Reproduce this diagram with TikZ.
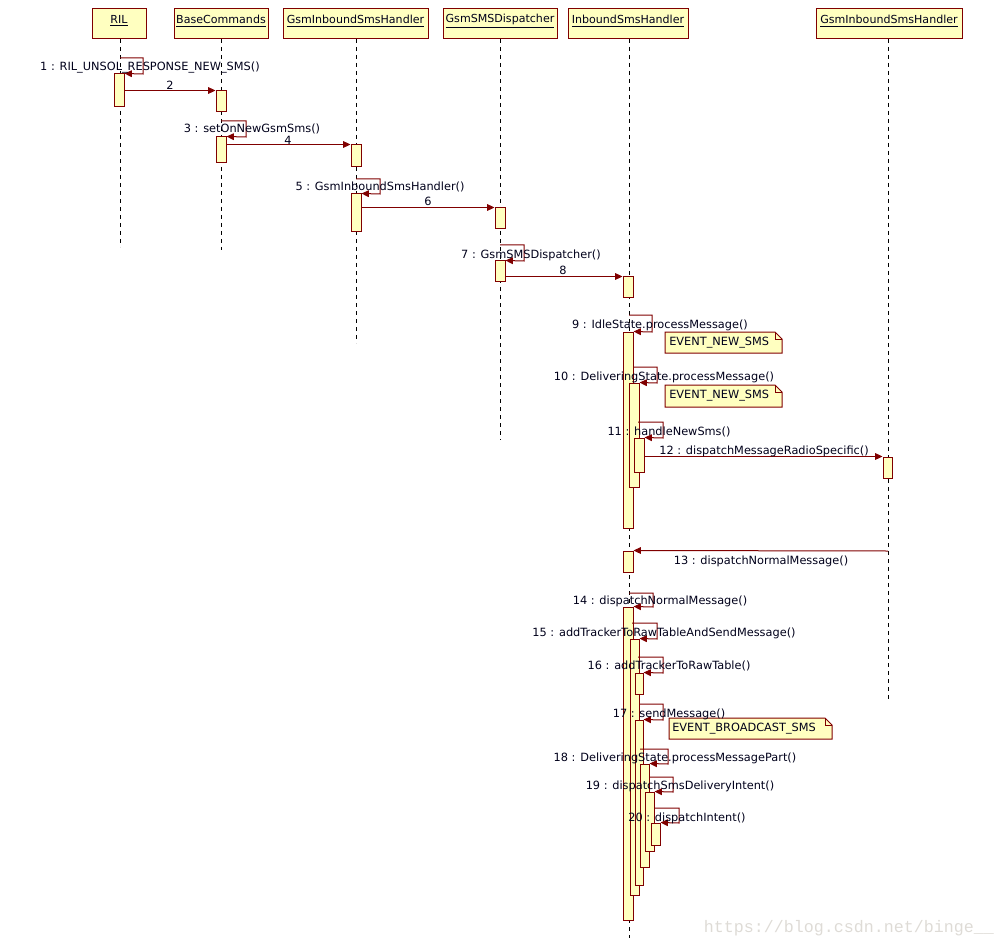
\documentclass[tikz,border=0pt]{standalone}
\usepackage{fontspec}
\setmainfont{DejaVu Sans}
\newfontfamily\wmfont{Liberation Mono}
\usetikzlibrary{arrows.meta,fit,backgrounds}
\definecolor{fillY}{HTML}{FFFFC0}
\definecolor{bord}{HTML}{800000}
\definecolor{txt}{HTML}{00001A}
\definecolor{wm}{HTML}{DEDBD6}
\begin{document}
\begin{tikzpicture}[x=0.75pt,y=-0.75pt,
  font=\fontsize{8.5}{10}\selectfont, text=txt,
  head/.style={draw=bord, fill=fillY, line width=0.75pt, inner sep=0pt},
  act/.style={draw=bord, fill=fillY, line width=0.75pt, inner sep=0pt},
  life/.style={draw=black, line width=0.75pt, dash pattern=on 3pt off 3pt},
  msg/.style={draw=bord, line width=0.75pt, -{Triangle[length=5.5pt,width=5pt]}},
  lbl/.style={inner sep=0pt, anchor=center},
  htxt/.style={inner sep=0pt, anchor=center, font=\fontsize{8.3}{10}\selectfont},
  notetxt/.style={inner sep=0pt, anchor=west},
  notebd/.style={draw=bord, fill=fillY, line width=0.75pt}
]
\useasboundingbox (0,0) rectangle (1005,948);

% headers
\node[head, fit={(92,9)(146,39)}] (h1) {};
\node[head, fit={(174,9)(268,39)}] (h2) {};
\node[head, fit={(283,9)(428,39)}] (h3) {};
\node[head, fit={(443,9)(557,39)}] (h4) {};
\node[head, fit={(568,9)(688,39)}] (h5) {};
\node[head, fit={(816,9)(962,39)}] (h6) {};
\node[htxt] (t1) at ([yshift=2.2pt]h1.center) {\underline{RIL}};
\node[htxt] (t2) at ([yshift=2.2pt]h2.center) {\underline{BaseCommands}};
\node[htxt] (t3) at ([yshift=2.2pt]h3.center) {\underline{GsmInboundSmsHandler}};
\node[htxt] (t4) at ([yshift=2.2pt]h4.center) {\underline{GsmSMSDispatcher}};
\node[htxt] (t5) at ([yshift=2.2pt]h5.center) {\underline{InboundSmsHandler}};
\node[htxt] (t6) at ([yshift=2.2pt]h6.center) {\underline{GsmInboundSmsHandler}};

% lifeline ends
\coordinate (e1) at (120,247);
\coordinate (e2) at (221,250);
\coordinate (e3) at (356,343);
\coordinate (e4) at (500,440);
\coordinate (e5) at (629,938);
\coordinate (e6) at (888,700);
\draw[life] (120,39) -- (e1);
\draw[life] (221,39) -- (e2);
\draw[life] (356,39) -- (e3);
\draw[life] (500,39) -- (e4);
\draw[life] (629,39) -- (e5);
\draw[life] (888,39) -- (e6);

% activations
\node[act, fit={(114,74)(124,107)}] (a1) {};
\node[act, fit={(216,91)(226,112)}] (a2) {};
\node[act, fit={(216,137)(226,163)}] (a3) {};
\node[act, fit={(351,145)(361,167)}] (a4) {};
\node[act, fit={(351,194)(361,232)}] (a5) {};
\node[act, fit={(495,208)(505,229)}] (a6) {};
\node[act, fit={(495,261)(505,282)}] (a7) {};
\node[act, fit={(623,277)(633,297)}] (a8) {};
\node[act, fit={(623,332)(633,528)}] (a9) {};
\node[act, fit={(629,383)(639,487)}] (a10) {};
\node[act, fit={(634,438)(644,472)}] (a11) {};
\node[act, fit={(883,457)(892,478)}] (a12) {};
\node[act, fit={(623,551)(633,572)}] (a13) {};
\node[act, fit={(623,607)(633,920)}] (a14) {};
\node[act, fit={(630,639)(639,895)}] (a15) {};
\node[act, fit={(635,673)(643,694)}] (a16) {};
\node[act, fit={(635,720)(643,885)}] (a17) {};
\node[act, fit={(640,764)(649,867)}] (a18) {};
\node[act, fit={(645,792)(654,851)}] (a19) {};
\node[act, fit={(651,823)(660,845)}] (a20) {};

% messages
\draw[msg] (120,58) -- (143,58) -- (143,74) -- (a1.north east);
\draw[msg] (a1.east |- a2.north west) -- (a2.north west);
\draw[msg] (221,121) -- (246,121) -- (246,137) -- (a3.north east);
\draw[msg] (a3.east |- a4.north west) -- (a4.north west);
\draw[msg] (356,179) -- (380,179) -- (380,194) -- (a5.north east);
\draw[msg] (a5.east |- a6.north west) -- (a6.north west);
\draw[msg] (500,245) -- (524,245) -- (524,261) -- (a7.north east);
\draw[msg] (a7.east |- a8.north west) -- (a8.north west);
\draw[msg] (629,315) -- (652,315) -- (652,332) -- (a9.north east);
\draw[msg] (634,367) -- (657,367) -- (657,383) -- (a10.north east);
\draw[msg] (638,422) -- (663,422) -- (663,438) -- (a11.north east);
\draw[msg] (a11.east |- a12.north west) -- (a12.north west);
\coordinate (s13) at (888,551);
\draw[msg] (s13) -- (a13.north east);
\draw[msg] (629,593) -- (653,593) -- (653,607) -- (a14.north east);
\draw[msg] (632,623) -- (657,623) -- (657,639) -- (a15.north east);
\draw[msg] (638,657) -- (663,657) -- (663,673) -- (a16.north east);
\draw[msg] (639,704) -- (663,704) -- (663,720) -- (a17.north east);
\draw[msg] (640,749) -- (668,749) -- (668,764) -- (a18.north east);
\draw[msg] (649,777) -- (673,777) -- (673,792) -- (a19.north east);
\draw[msg] (654,808) -- (679,808) -- (679,823) -- (a20.north east);

% notes
\node[notetxt] (n1) at (669,343) {EVENT\_NEW\_SMS};
\node[notetxt] (n2) at (669,396) {EVENT\_NEW\_SMS};
\node[notetxt] (n3) at (672,729) {EVENT\_BROADCAST\_SMS};
\begin{scope}[on background layer]
\filldraw[notebd] (665,332) -- (775,332) -- (782,339) -- (782,353) -- (665,353) -- cycle;
\draw[draw=bord, line width=0.75pt] (775,332) -- (775,339) -- (782,339);
\filldraw[notebd] (665,385) -- (775,385) -- (782,392) -- (782,407) -- (665,407) -- cycle;
\draw[draw=bord, line width=0.75pt] (775,385) -- (775,392) -- (782,392);
\filldraw[notebd] (669,718) -- (825,718) -- (832,725) -- (832,739) -- (669,739) -- cycle;
\draw[draw=bord, line width=0.75pt] (825,718) -- (825,725) -- (832,725);
\end{scope}

% labels
\node[lbl] (l1) at (150,68) {1 : RIL\_UNSOL\_RESPONSE\_NEW\_SMS()};
\node[lbl] (l2) at (170,85) {2};
\node[lbl] (l3) at (252,129) {3 : setOnNewGsmSms()};
\node[lbl] (l4) at (288,140) {4};
\node[lbl] (l5) at (380,187) {5 : GsmInboundSmsHandler()};
\node[lbl] (l6) at (428,201) {6};
\node[lbl] (l7) at (531,255) {7 : GsmSMSDispatcher()};
\node[lbl] (l8) at (563,270) {8};
\node[lbl] (l9) at (660,325) {9 : IdleState.processMessage()};
\node[lbl] (l10) at (664,377) {10 : DeliveringState.processMessage()};
\node[lbl] (l11) at (669,432) {11 : handleNewSms()};
\node[lbl] (l12) at (764,451) {12 : dispatchMessageRadioSpecific()};
\node[lbl] (l13) at (761,561) {13 : dispatchNormalMessage()};
\node[lbl] (l14) at (660,601) {14 : dispatchNormalMessage()};
\node[lbl] (l15) at (664,633) {15 : addTrackerToRawTableAndSendMessage()};
\node[lbl] (l16) at (669,666) {16 : addTrackerToRawTable()};
\node[lbl] (l17) at (669,714) {17 : sendMessage()};
\node[lbl] (l18) at (675,758) {18 : DeliveringState.processMessagePart()};
\node[lbl] (l19) at (680,786) {19 : dispatchSmsDeliveryIntent()};
\node[lbl] (l20) at (687,818) {20 : dispatchIntent()};

% watermark
\node[inner sep=0pt, anchor=center, text=wm, font=\wmfont\fontsize{12.5}{14}\selectfont] (wmk) at (849,928) {https://blog.csdn.net/binge\_\_};
\end{tikzpicture}
\end{document}
